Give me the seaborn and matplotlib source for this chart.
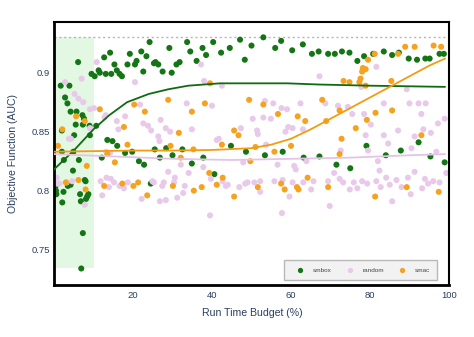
import numpy as np
import pandas as pd
import seaborn as sns
import matplotlib
matplotlib.use("Agg")
import matplotlib.pyplot as plt
from matplotlib.lines import Line2D

# ---- observed evaluations (run time budget %, AUC) ----
smbox_x = [0.3, 0.5, 0.6, 1.7, 2.0, 2.0, 2.1, 2.4, 2.5, 2.8, 3.4, 3.5, 3.9, 4.2, 4.2, 4.8, 4.9, 5.1, 5.5, 5.7,
           6.1, 6.3, 6.6, 6.8, 6.9, 7.2, 7.3, 7.3, 7.6, 7.8, 8.0, 8.1, 8.4, 8.7, 9.0, 9.1, 9.5, 10.3, 10.7, 11.3,
           11.6, 12.1, 12.7, 13.1, 13.5, 14.2, 14.5, 14.8, 15.3, 15.9, 16.0, 16.6, 17.2, 18.0, 18.6, 19.2, 19.8,
           20.5, 20.9, 21.5, 22.1, 22.6, 22.8, 23.4, 24.2, 24.5, 25.3, 25.5, 25.7, 26.4, 26.8, 27.5, 28.4, 29.2,
           29.8, 30.0, 31.0, 31.8, 32.5, 33.7, 34.5, 34.9, 36.1, 37.6, 37.8, 38.5, 40.3, 40.6, 42.3, 44.5, 44.8,
           47.1, 48.3, 48.6, 50.0, 53.0, 53.4, 56.0, 57.5, 57.9, 60.3, 63.0, 63.2, 65.3, 67.0, 67.2, 69.4, 71.1,
           71.5, 72.9, 74.8, 75.0, 76.8, 78.5, 79.1, 80.8, 83.5, 84.0, 85.6, 87.3, 87.8, 89.8, 91.9, 92.3, 94.0,
           95.1, 95.3, 97.6, 98.7, 98.9]
smbox_y = [0.803, 0.800, 0.797, 0.889, 0.851, 0.833, 0.790, 0.799, 0.826, 0.879, 0.874, 0.804, 0.889, 0.867,
           0.805, 0.817, 0.833, 0.847, 0.856, 0.867, 0.909, 0.826, 0.797, 0.791, 0.734, 0.864, 0.856, 0.764,
           0.861, 0.809, 0.808, 0.793, 0.795, 0.797, 0.855, 0.847, 0.899, 0.897, 0.855, 0.902, 0.900, 0.828,
           0.913, 0.899, 0.843, 0.917, 0.899, 0.842, 0.907, 0.902, 0.838, 0.899, 0.897, 0.832, 0.907, 0.916,
           0.833, 0.907, 0.910, 0.825, 0.918, 0.901, 0.822, 0.914, 0.926, 0.806, 0.908, 0.835, 0.909, 0.907,
           0.828, 0.901, 0.836, 0.921, 0.900, 0.830, 0.907, 0.909, 0.835, 0.926, 0.918, 0.823, 0.910, 0.921,
           0.828, 0.915, 0.926, 0.814, 0.917, 0.921, 0.838, 0.928, 0.911, 0.833, 0.923, 0.930, 0.830, 0.921,
           0.927, 0.833, 0.919, 0.924, 0.828, 0.916, 0.918, 0.829, 0.916, 0.916, 0.822, 0.918, 0.917, 0.819,
           0.910, 0.914, 0.838, 0.916, 0.918, 0.830, 0.915, 0.917, 0.834, 0.912, 0.911, 0.841, 0.912, 0.912,
           0.829, 0.916, 0.916, 0.824]

random_x = [0.7, 0.8, 1.4, 2.8, 3.2, 3.8, 4.3, 4.6, 5.2, 6.2, 7.0, 7.4, 7.8, 9.1, 9.1, 10.1, 10.8, 11.8, 12.2,
            12.8, 13.1, 13.2, 13.3, 13.9, 14.2, 14.4, 15.2, 15.9, 16.3, 16.6, 17.7, 18.0, 18.7, 20.5, 21.8, 22.2,
            22.6, 23.8, 24.6, 24.9, 25.3, 26.4, 26.7, 26.8, 27.0, 27.4, 27.8, 28.3, 28.3, 28.9, 29.4, 30.4, 30.6,
            31.2, 32.1, 32.7, 33.1, 33.6, 34.1, 34.9, 37.2, 37.8, 38.0, 39.5, 39.7, 40.0, 41.2, 41.7, 42.5, 42.7,
            43.5, 44.0, 46.9, 47.3, 47.9, 48.4, 49.0, 50.3, 50.7, 51.4, 51.6, 52.2, 52.2, 53.0, 53.4, 53.7, 54.9,
            55.5, 55.8, 56.6, 57.6, 57.7, 57.9, 58.6, 59.0, 59.3, 59.6, 60.4, 60.4, 60.8, 61.2, 62.4, 63.0, 63.1,
            63.9, 65.1, 65.7, 67.2, 68.7, 69.4, 69.8, 70.9, 71.9, 72.3, 72.6, 73.2, 74.4, 74.9, 75.5, 75.9, 76.8,
            77.8, 78.0, 78.5, 78.9, 79.3, 79.5, 80.2, 81.6, 81.6, 82.0, 82.4, 82.7, 83.5, 83.5, 84.1, 84.6, 85.0,
            85.6, 86.7, 87.1, 88.0, 89.3, 89.6, 90.0, 90.3, 90.5, 91.3, 91.3, 92.3, 93.0, 93.2, 93.5, 93.9, 94.1,
            94.7, 95.4, 96.0, 96.8, 97.2, 97.6, 98.9, 99.3]
random_y = [0.811, 0.806, 0.806, 0.892, 0.807, 0.844, 0.844, 0.808, 0.882, 0.878, 0.895, 0.875, 0.788, 0.869,
            0.853, 0.870, 0.909, 0.808, 0.796, 0.862, 0.864, 0.833, 0.811, 0.803, 0.832, 0.810, 0.807, 0.859,
            0.852, 0.804, 0.802, 0.863, 0.807, 0.892, 0.873, 0.793, 0.857, 0.855, 0.851, 0.808, 0.807, 0.846,
            0.842, 0.791, 0.860, 0.804, 0.807, 0.853, 0.792, 0.816, 0.850, 0.807, 0.811, 0.794, 0.822, 0.798,
            0.804, 0.874, 0.815, 0.852, 0.907, 0.820, 0.893, 0.779, 0.810, 0.872, 0.843, 0.844, 0.889, 0.808,
            0.804, 0.805, 0.803, 0.853, 0.824, 0.806, 0.807, 0.861, 0.807, 0.851, 0.848, 0.808, 0.799, 0.862,
            0.876, 0.839, 0.861, 0.874, 0.808, 0.822, 0.870, 0.781, 0.809, 0.850, 0.869, 0.854, 0.795, 0.853,
            0.807, 0.821, 0.818, 0.874, 0.852, 0.807, 0.825, 0.801, 0.808, 0.897, 0.874, 0.808, 0.787, 0.815,
            0.872, 0.810, 0.834, 0.807, 0.871, 0.801, 0.865, 0.807, 0.802, 0.888, 0.808, 0.865, 0.847, 0.806,
            0.834, 0.856, 0.905, 0.808, 0.825, 0.817, 0.803, 0.874, 0.847, 0.811, 0.840, 0.805, 0.791, 0.809,
            0.851, 0.803, 0.886, 0.811, 0.874, 0.797, 0.836, 0.846, 0.816, 0.874, 0.865, 0.802, 0.852, 0.810,
            0.874, 0.806, 0.849, 0.808, 0.833, 0.857, 0.807, 0.861, 0.815]

smac_x = [1.0, 2.1, 3.0, 5.6, 6.2, 7.8, 8.0, 8.3, 11.6, 12.7, 13.5, 15.4, 17.3, 17.7, 18.6, 20.1, 20.3, 21.3,
          23.0, 23.6, 28.9, 29.5, 30.1, 31.6, 32.1, 34.9, 35.3, 35.4, 37.4, 38.2, 39.3, 39.5, 41.2, 42.5, 42.7,
          45.6, 45.6, 46.7, 49.4, 49.7, 51.0, 51.6, 53.0, 55.8, 56.7, 57.5, 58.4, 60.0, 61.5, 61.7, 61.9, 63.6,
          64.2, 67.9, 68.9, 69.4, 72.3, 72.3, 72.8, 73.3, 74.8, 76.4, 77.3, 77.6, 78.0, 78.2, 78.9, 78.9, 79.2,
          79.5, 81.2, 81.3, 81.4, 85.4, 85.6, 87.1, 88.9, 89.3, 91.3, 93.0, 96.1, 97.4, 98.0]
smac_y = [0.838, 0.852, 0.807, 0.863, 0.809, 0.859, 0.801, 0.821, 0.869, 0.804, 0.831, 0.824, 0.806, 0.854,
          0.839, 0.804, 0.873, 0.807, 0.867, 0.796, 0.877, 0.838, 0.804, 0.849, 0.828, 0.867, 0.835, 0.800,
          0.803, 0.874, 0.815, 0.891, 0.805, 0.839, 0.811, 0.851, 0.795, 0.847, 0.877, 0.825, 0.837, 0.803,
          0.873, 0.833, 0.865, 0.806, 0.801, 0.838, 0.803, 0.863, 0.801, 0.859, 0.811, 0.877, 0.859, 0.803,
          0.868, 0.831, 0.844, 0.893, 0.892, 0.853, 0.892, 0.895, 0.901, 0.904, 0.903, 0.889, 0.860, 0.911,
          0.916, 0.795, 0.866, 0.893, 0.868, 0.916, 0.922, 0.803, 0.922, 0.847, 0.923, 0.799, 0.922]

# ---- smoothed trend of each optimizer ----
smbox_trend_x = [0, 5, 10, 14, 18.5, 24, 29, 34, 42, 50, 59, 67, 80, 99]
smbox_trend_y = [0.818, 0.834, 0.852, 0.864, 0.875, 0.882, 0.886, 0.889, 0.891, 0.891, 0.891, 0.890, 0.889, 0.888]
random_trend_x = [0, 15, 30, 45, 60, 75, 90, 99]
random_trend_y = [0.831, 0.829, 0.827, 0.826, 0.827, 0.828, 0.830, 0.831]
smac_trend_x = [0, 10, 20, 30, 40, 50, 55, 60, 65, 70, 75, 80, 85, 90, 95, 99]
smac_trend_y = [0.833, 0.8335, 0.834, 0.834, 0.8345, 0.836, 0.839, 0.844, 0.852, 0.861, 0.870, 0.879,
                0.888, 0.897, 0.906, 0.912]

# ---- reference levels ----
best_auc = 0.93
init_phase_end = 10
init_phase_low = 0.734

methods = ["smbox", "random", "smac"]
colors = {"smbox": "#147514", "random": "#e8c9ea", "smac": "#f5a21e"}
line_colors = {"smbox": "#116a11", "random": "#e4c4e6", "smac": "#f39c12"}

points = pd.concat([
    pd.DataFrame({"budget": smbox_x, "auc": smbox_y, "method": "smbox"}),
    pd.DataFrame({"budget": random_x, "auc": random_y, "method": "random"}),
    pd.DataFrame({"budget": smac_x, "auc": smac_y, "method": "smac"}),
], ignore_index=True)
trends = pd.concat([
    pd.DataFrame({"budget": smbox_trend_x, "auc": smbox_trend_y, "method": "smbox"}),
    pd.DataFrame({"budget": random_trend_x, "auc": random_trend_y, "method": "random"}),
    pd.DataFrame({"budget": smac_trend_x, "auc": smac_trend_y, "method": "smac"}),
], ignore_index=True)

sns.set_theme(style="white")
plt.rcParams["font.family"] = ["Liberation Sans", "DejaVu Sans"]
text_color = "#2a3f5f"

fig = plt.figure(figsize=(4.74, 3.37), dpi=100)
ax = fig.add_axes([54 / 474, 1 - 285 / 337, 395 / 474, 263 / 337])

# initial design phase and best score
ax.fill_between([0, init_phase_end], init_phase_low, best_auc, color="#e3f8e3", lw=0, zorder=0)
ax.axhline(best_auc, color="#b5b5b5", lw=1.0, ls=(0, (1.5, 2)), zorder=1)

sns.scatterplot(data=points, x="budget", y="auc", hue="method", hue_order=methods,
                palette=colors, s=19, linewidth=0, legend=False, ax=ax, zorder=2)
for m in methods:
    sub = trends[trends["method"] == m]
    sns.lineplot(data=sub, x="budget", y="auc", color=line_colors[m], lw=1.3,
                 ax=ax, zorder=3, legend=False)

ax.set_xlim(0, 100)
ax.set_ylim(0.72, 0.943)
ax.set_xticks([20, 40, 60, 80, 100])
ax.set_yticks([0.75, 0.8, 0.85, 0.9])
ax.set_yticklabels(["0.75", "0.8", "0.85", "0.9"])
ax.tick_params(axis="y", length=0, labelsize=6.8, labelcolor=text_color, pad=3)
ax.tick_params(axis="x", length=0, labelsize=6.8, labelcolor=text_color, pad=4)
ax.set_xlabel("Run Time Budget (%)", fontsize=7.6, color=text_color)
ax.set_ylabel("Objective Function (AUC)", fontsize=7.6, color=text_color)
ax.xaxis.set_label_coords(198 / 395, -(313 - 285) / 263)
ax.yaxis.set_label_coords(-(54 - 13) / 395, 0.5)
ax.xaxis.label.set_va("center")
ax.yaxis.label.set_va("center")
for side in ["left", "bottom", "top", "right"]:
    ax.spines[side].set_visible(True)
    ax.spines[side].set_color("black")
ax.spines["left"].set_linewidth(2.0)
ax.spines["bottom"].set_linewidth(2.0)
ax.spines["top"].set_linewidth(1.5)
ax.spines["right"].set_linewidth(1.5)

handles = [Line2D([], [], ls="", marker="o", markersize=3.8, markerfacecolor=colors[m],
                  markeredgewidth=0) for m in methods]
leg = ax.legend(handles, methods, loc="lower right", bbox_to_anchor=(0.970, 0.019), ncol=3,
                fontsize=4.6, frameon=True, fancybox=False, handletextpad=0.6, columnspacing=1.4,
                borderpad=1.1, handlelength=2.8, borderaxespad=0, numpoints=1)
leg.get_frame().set_facecolor("#efefef")
leg.get_frame().set_edgecolor("#a8a8a8")
leg.get_frame().set_linewidth(1.0)
for t in leg.get_texts():
    t.set_color("#444444")

fig.savefig("out.png", dpi=100)
